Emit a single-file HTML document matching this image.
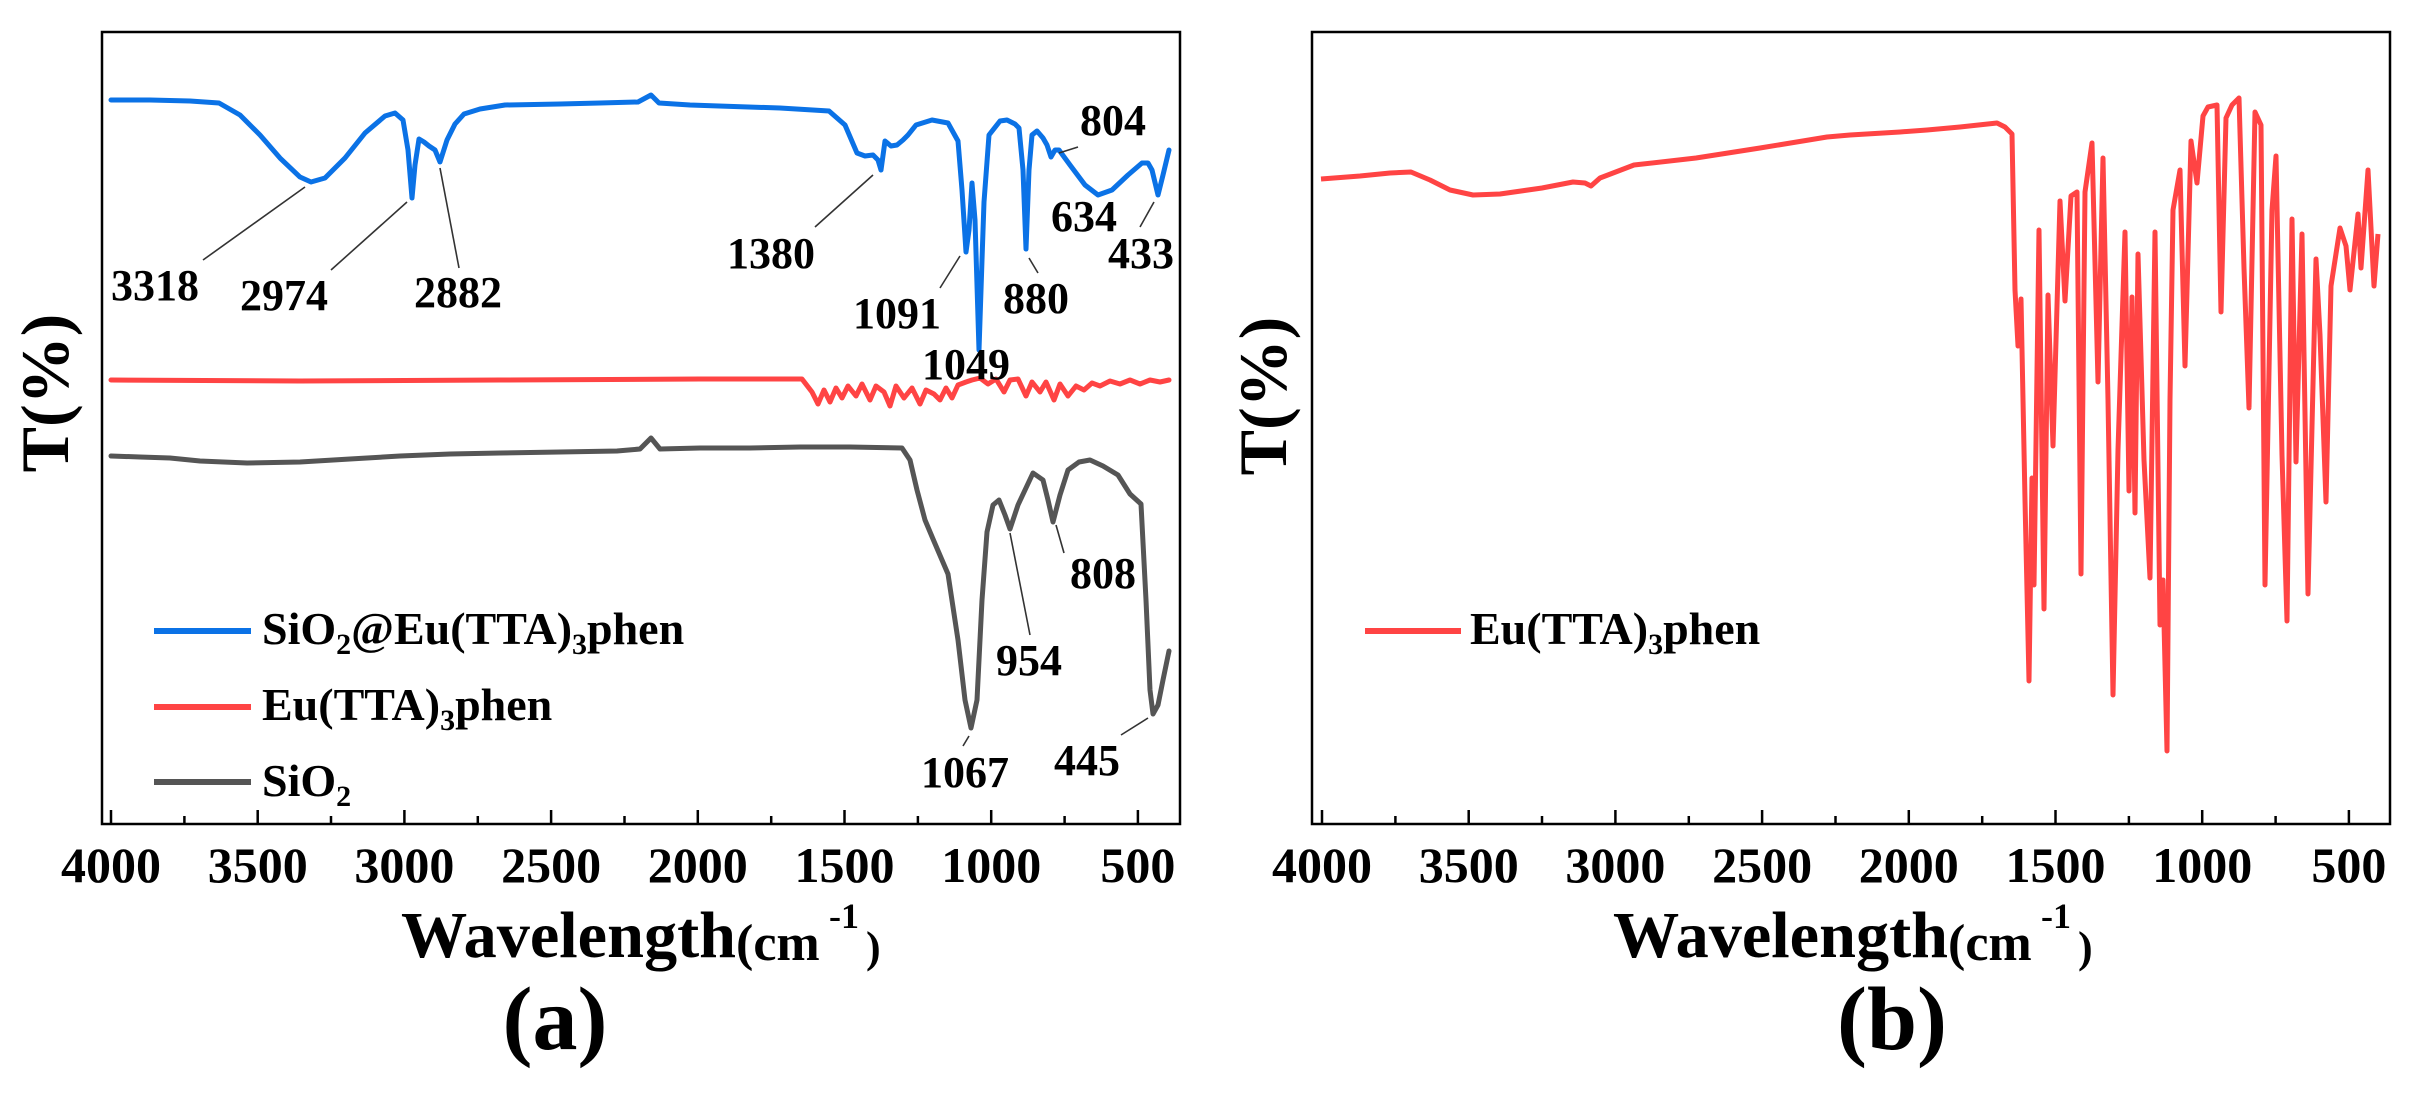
<!DOCTYPE html>
<html><head><meta charset="utf-8"><style>
html,body{margin:0;padding:0;background:#fff;}
svg{display:block;}
text{font-family:"Liberation Serif","DejaVu Serif",serif;font-weight:bold;fill:#000;}
</style></head><body>
<svg width="2418" height="1100" viewBox="0 0 2418 1100" xmlns="http://www.w3.org/2000/svg">
<g fill="none" stroke="#000" stroke-width="2.5">
<rect x="102" y="32" width="1078" height="792"/>
<rect x="1312" y="32" width="1078" height="792"/>
</g>
<g stroke="#000" stroke-width="2.5">
<path d="M111 824v-14M257.7 824v-14M404.4 824v-14M551.1 824v-14M697.8 824v-14M844.5 824v-14M991.2 824v-14M1137.9 824v-14M184.4 824v-8M331 824v-8M477.8 824v-8M624.5 824v-8M771.2 824v-8M917.9 824v-8M1064.6 824v-8"/>
<path d="M1322 824v-14M1468.7 824v-14M1615.4 824v-14M1762.1 824v-14M1908.8 824v-14M2055.5 824v-14M2202.2 824v-14M2348.9 824v-14M1395.4 824v-8M1542 824v-8M1688.8 824v-8M1835.5 824v-8M1982.2 824v-8M2128.9 824v-8M2275.6 824v-8"/>
</g>
<g font-size="50" text-anchor="middle">
<text x="111" y="882">4000</text><text x="257.7" y="882">3500</text><text x="404.4" y="882">3000</text><text x="551.1" y="882">2500</text><text x="697.8" y="882">2000</text><text x="844.5" y="882">1500</text><text x="991.2" y="882">1000</text><text x="1137.9" y="882">500</text>
<text x="1322" y="882">4000</text><text x="1468.7" y="882">3500</text><text x="1615.4" y="882">3000</text><text x="1762.1" y="882">2500</text><text x="1908.8" y="882">2000</text><text x="2055.5" y="882">1500</text><text x="2202.2" y="882">1000</text><text x="2348.9" y="882">500</text>
</g>
<text x="401" y="957" font-size="66" textLength="335" lengthAdjust="spacingAndGlyphs">Wavelength</text>
<text x="736" y="960" font-size="52">(cm</text><text x="829" y="928" font-size="36">-1</text><text x="866" y="962" font-size="44">)</text>
<text x="1613" y="957" font-size="66" textLength="335" lengthAdjust="spacingAndGlyphs">Wavelength</text>
<text x="1948" y="960" font-size="52">(cm</text><text x="2041" y="928" font-size="36">-1</text><text x="2078" y="962" font-size="44">)</text>
<text x="555" y="1049" font-size="90" text-anchor="middle">(a)</text>
<text x="1892" y="1049" font-size="90" text-anchor="middle">(b)</text>
<text transform="translate(68,393) rotate(-90)" font-size="68" text-anchor="middle">T(%)</text>
<text transform="translate(1286,396) rotate(-90)" font-size="68" text-anchor="middle">T(%)</text>

<g fill="none" stroke-width="5" stroke-linejoin="round" stroke-linecap="round">
<polyline stroke="#0b72e6" points="111,100 150,100 190,101 219,103 240,115 260,135 280,158 300,177 311,182 325,178 345,158 365,133 385,116 395,113 403,120 408,150 412,198 415,165 419,139 424,142 429,146 435,150 440,162 447,140 455,124 464,114 480,109 505,105 560,104 600,103 638,102 651,95 659,103 690,105 719,106 780,108 829,111 845,125 857,153 865,156 873,155 878,160 881,170 885,141 891,146 897,145 903,140 908,135 916,125 932,120 948,123 958,141 962,190 966,252 969,230 972,183 975,220 979,350 982,260 984,202 989,135 1000,121 1007,120 1015,124 1019,128 1023,170 1026,249 1029,170 1032,135 1037,131 1043,138 1047,145 1051,157 1055,150 1059,150 1070,165 1085,185 1098,195 1112,190 1128,175 1142,163 1148,163 1152,170 1158,195 1163,175 1169,150"/>
<polyline stroke="#ff4444" points="111,380 300,381 500,380 700,379 802,379 812,392 818,404 824,390 830,402 836,388 842,398 848,386 856,396 862,384 870,400 876,386 884,392 890,406 896,386 904,398 912,388 920,404 926,390 934,394 940,400 946,388 952,398 958,385 966,382 972,380 980,378 988,384 996,379 1004,392 1010,380 1018,379 1026,396 1032,382 1040,392 1046,382 1054,400 1060,384 1068,396 1076,386 1084,390 1092,383 1100,386 1110,381 1120,384 1130,380 1140,384 1150,380 1160,382 1169,380"/>
<polyline stroke="#555" points="111,456 140,457 170,458 200,461 247,463 300,462 350,459 400,456 450,454 500,453 560,452 617,451 640,449 651,438 660,449 700,448 750,448 800,447 850,447 902,448 910,460 917,490 925,520 933,539 948,574 958,640 965,700 971,728 977,700 982,600 987,532 993,505 999,500 1005,515 1010,529 1018,505 1033,473 1043,480 1048,500 1053,522 1060,495 1068,470 1079,462 1090,460 1103,466 1118,475 1130,494 1141,504 1146,600 1150,690 1153,714 1158,705 1163,680 1169,651"/>
</g>
<polyline fill="none" stroke="#ff4444" stroke-width="5" stroke-linejoin="round" points="1321,179 1360,176 1390,173 1411,172 1430,180 1450,190 1473,195 1500,194 1542,188 1573,182 1585,183 1591,186 1600,178 1634,165 1696,158 1760,148 1827,137 1850,135 1900,132 1927,130 1960,127 1997,123 2005,127 2012,134 2015,290 2018,346 2021,299 2025,500 2029,681 2032,478 2034,585 2039,230 2044,609 2048,295 2053,446 2060,201 2065,301 2071,196 2077,192 2081,574 2085,192 2092,143 2098,382 2103,158 2108,400 2113,695 2118,450 2125,232 2129,491 2132,297 2135,513 2138,254 2144,460 2150,578 2155,232 2160,625 2163,580 2167,751 2170,400 2173,210 2180,170 2185,366 2191,141 2197,183 2203,116 2208,107 2217,105 2221,312 2226,118 2232,105 2239,98 2244,268 2249,408 2255,112 2261,125 2265,585 2272,210 2276,156 2282,455 2287,621 2292,219 2296,462 2302,234 2308,594 2316,259 2320,335 2326,502 2331,286 2340,228 2346,246 2350,290 2358,214 2361,268 2368,170 2374,286 2378,234"/>

<g stroke-width="6">
<line x1="154" y1="631" x2="251" y2="631" stroke="#0b72e6"/>
<line x1="154" y1="707" x2="251" y2="707" stroke="#ff4444"/>
<line x1="154" y1="782" x2="251" y2="782" stroke="#555"/>
<line x1="1365" y1="631" x2="1461" y2="631" stroke="#ff4444"/>
</g>
<g font-size="46">
<text x="262" y="644">SiO<tspan font-size="30" dy="10">2</tspan><tspan dy="-10">@Eu(TTA)</tspan><tspan font-size="30" dy="10">3</tspan><tspan dy="-10">phen</tspan></text>
<text x="262" y="720">Eu(TTA)<tspan font-size="30" dy="10">3</tspan><tspan dy="-10">phen</tspan></text>
<text x="262" y="796">SiO<tspan font-size="30" dy="10">2</tspan></text>
<text x="1470" y="644">Eu(TTA)<tspan font-size="30" dy="10">3</tspan><tspan dy="-10">phen</tspan></text>
</g>

<g stroke="#333" stroke-width="1.6">
<line x1="203" y1="260" x2="305" y2="187"/>
<line x1="331" y1="270" x2="407" y2="202"/>
<line x1="459" y1="268" x2="440" y2="168"/>
<line x1="815" y1="227" x2="873" y2="175"/>
<line x1="940" y1="288" x2="960" y2="256"/>
<line x1="1029" y1="258" x2="1038" y2="273"/>
<line x1="1059" y1="153" x2="1078" y2="147"/>
<line x1="1154" y1="202" x2="1140" y2="227"/>
<line x1="1010" y1="533" x2="1030" y2="635"/>
<line x1="1056" y1="525" x2="1064" y2="553"/>
<line x1="969" y1="736" x2="963" y2="746"/>
<line x1="1148" y1="718" x2="1121" y2="735"/>
</g>
<g font-size="44">
<text x="111" y="300">3318</text>
<text x="240" y="310">2974</text>
<text x="414" y="307">2882</text>
<text x="727" y="268">1380</text>
<text x="853" y="328">1091</text>
<text x="922" y="379">1049</text>
<text x="1003" y="313">880</text>
<text x="1080" y="135">804</text>
<text x="1051" y="231">634</text>
<text x="1108" y="268">433</text>
<text x="996" y="675">954</text>
<text x="1070" y="588">808</text>
<text x="921" y="787">1067</text>
<text x="1054" y="775">445</text>
</g>
</svg>
</body></html>
